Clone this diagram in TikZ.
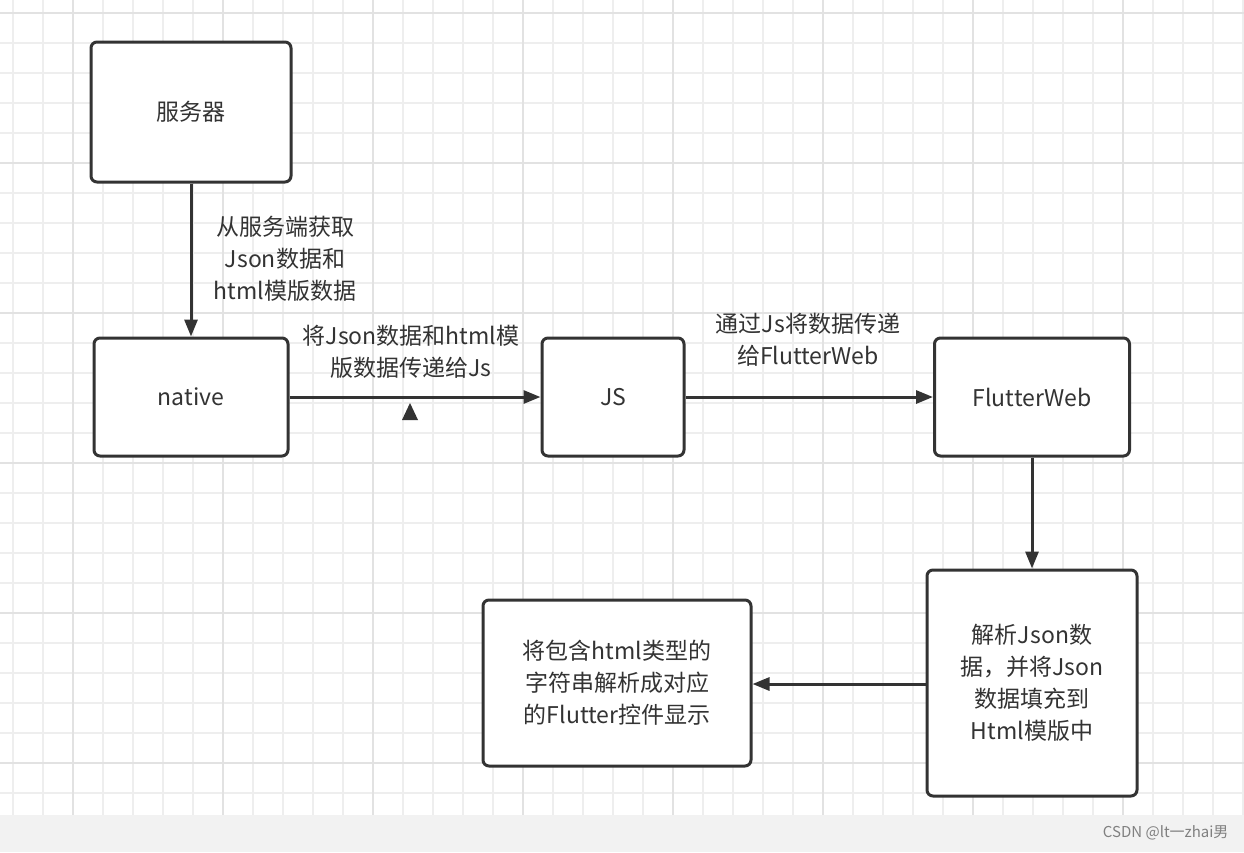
\documentclass[tikz,border=0pt]{standalone}
\usepackage{fontspec}
\setmainfont{Noto Sans CJK SC}
\usetikzlibrary{arrows.meta}
\definecolor{ink}{HTML}{333333}
\definecolor{gridminor}{HTML}{EEEEEE}
\definecolor{gridmajor}{HTML}{E2E2E2}
\definecolor{band}{HTML}{F2F2F2}
\begin{document}
\begin{tikzpicture}[x=1pt,y=-1pt,
  box/.style={draw=ink,line width=3pt,rounded corners=6pt,fill=white,align=center,
    font=\fontsize{23}{32}\selectfont,text=ink},
  arr/.style={draw=ink,line width=3pt,-{Triangle[length=17pt,width=13pt]}},
  lbl/.style={align=center,font=\fontsize{23}{32}\selectfont,text=ink}]
\useasboundingbox (0,0) rectangle (1244,852);
\fill[white] (0,0) rectangle (1244,852);
% grid
\foreach \x in {13,43,...,1244} \draw[gridminor,line width=1.2pt] (\x,0) -- (\x,815);
\foreach \y in {13,43,...,815} \draw[gridminor,line width=1.2pt] (0,\y) -- (1244,\y);
\foreach \x in {73,223,...,1244} \draw[gridmajor,line width=2pt] (\x,0) -- (\x,815);
\foreach \y in {13,163,...,815} \draw[gridmajor,line width=2pt] (0,\y) -- (1244,\y);
\fill[band] (0,815) rectangle (1244,852);
% boxes
\node[box,minimum width=200pt,minimum height=140pt] (srv) at (191,112) {服务器};
\node[box,minimum width=194pt,minimum height=118pt] (nat) at (191,397) {native};
\node[box,minimum width=142pt,minimum height=118pt] (js) at (613,397) {JS};
\node[box,minimum width=195pt,minimum height=118pt] (fw) at (1032,397) {FlutterWeb};
\node[box,minimum width=210pt,minimum height=226pt] (parse) at (1032,683) {解析Json数\\据，并将Json\\数据填充到\\Html模版中};
\node[box,minimum width=268pt,minimum height=166pt] (show) at (617,683) {将包含html类型的\\字符串解析成对应\\的Flutter控件显示};
% connectors
\draw[arr] (srv) -- (nat);
\draw[arr] (nat.east |- 0,397) -- (js.west |- 0,397);
\draw[arr] (js.east |- 0,397) -- (fw.west |- 0,397);
\draw[arr] (fw) -- (parse);
\draw[arr] (parse.west |- 0,684) -- (show.east |- 0,684);
\coordinate (tip) at (410,403);
\fill[ink] (tip) -- ++(8,17) -- ++(-16,0) -- cycle;
% labels
\node[lbl] (l1) at (285,259) {从服务端获取\\Json数据和\\html模版数据};
\node[lbl] (l2) at (411,352) {将Json数据和html模\\版数据传递给Js};
\node[lbl] (l3) at (808,340) {通过Js将数据传递\\给FlutterWeb};
\node[font=\fontsize{15}{18}\selectfont,text=gray,anchor=east] (wm) at (1232,833) {CSDN @lt一zhai男};
\end{tikzpicture}
\end{document}
